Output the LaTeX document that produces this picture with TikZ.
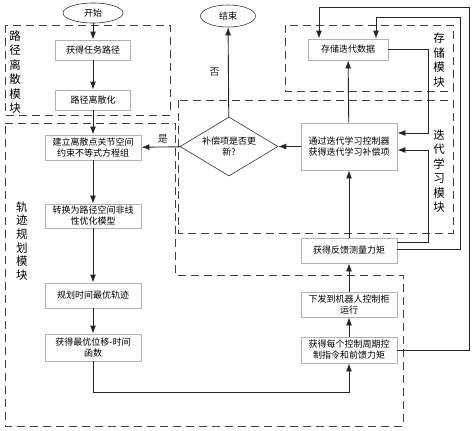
\documentclass[tikz,border=0pt]{standalone}
\usepackage{fontspec}
\newfontfamily\cjk{Noto Sans CJK SC}
\usetikzlibrary{arrows.meta,shapes.geometric}

\begin{document}
\begin{tikzpicture}[x=1pt, y=-1pt,
  box/.style={draw=gray!60, line width=0.9pt, fill=white, align=center, inner sep=1pt,
    font=\cjk\fontsize{9}{11}\selectfont},
  term/.style={ellipse, draw=black!80, line width=0.6pt, inner sep=0pt,
    font=\cjk\fontsize{9}{11}\selectfont},
  link/.style={-{Latex[length=8pt,width=6pt]}, line width=0.9pt, black!85},
  module/.style={dash pattern=on 8pt off 5pt, line width=1pt, black!75},
  tag/.style={align=center, font=\cjk\fontsize{11.5}{14.5}\selectfont}]
  \useasboundingbox (0,0) rectangle (474,431);

  \draw[module] (5,25) rectangle (170,115);
  \draw[module] (285,25) rectangle (453,91);
  \draw[module] (178,100) rectangle (453,233);
  \draw[module] (5,123) -- (175,123) -- (175,275) -- (403,275) -- (403,426) -- (5,426) -- cycle;
  \node[tag] (pathtag) at (15,72) {路\\径\\离\\散\\模\\块};
  \node[tag] (storetag) at (439,60) {存\\储\\模\\块};
  \node[tag] (learntag) at (439,171) {迭\\代\\学\\习\\模\\块};
  \node[tag, font=\cjk\fontsize{11.5}{13.6}\selectfont] (tracktag) at (22,241) {轨\\迹\\规\\划\\模\\块};

  \node[term, minimum width=60pt, minimum height=20pt] (start) at (93,13) {开始};
  \node[term, minimum width=55pt, minimum height=22pt] (finish) at (228,16) {结束};

  \node[box, minimum width=75pt, minimum height=20pt] (task) at (93,50) {获得任务路径};
  \node[box, minimum width=75pt, minimum height=20pt] (discrete) at (93,100) {路径离散化};
  \node[box, minimum width=96pt, minimum height=25pt] (build) at (93,147.5) {建立离散点关节空间\\约束不等式方程组};
  \node[box, minimum width=96pt, minimum height=24pt] (convert) at (93,216) {转换为路径空间非线\\性优化模型};
  \node[box, minimum width=96pt, minimum height=25pt] (plan) at (93,295.5) {规划时间最优轨迹};
  \node[box, minimum width=96pt, minimum height=27pt] (optimal) at (93,347.5) {获得最优位移-时间\\函数};

  \node[diamond, draw=black!80, line width=0.6pt, aspect=1.66, inner sep=1pt,
    minimum width=98pt, minimum height=59pt, align=center,
    font=\cjk\fontsize{9}{11}\selectfont] (judge) at (229,146.5) {补偿项是否更\\新?};

  \node[box, minimum width=80pt, minimum height=21pt] (store) at (348,49.5) {存储迭代数据};
  \node[box, minimum width=96pt, minimum height=47pt] (learn) at (349,146.5) {通过迭代学习控制器\\获得迭代学习补偿项};
  \node[box, minimum width=96pt, minimum height=25pt] (feedback) at (349,250.5) {获得反馈测量力矩};
  \node[box, minimum width=96pt, minimum height=25pt] (send) at (349,304.5) {下发到机器人控制柜\\运行};
  \node[box, minimum width=96pt, minimum height=26pt] (cmd) at (349,350) {获得每个控制周期控\\制指令和前馈力矩};

  \coordinate (turn) at (349,392);

  \draw[link] (start) -- (task);
  \draw[link] (task) -- (discrete);
  \draw[link] (discrete) -- (build);
  \draw[link] (build) -- (convert);
  \draw[link] (convert) -- (plan);
  \draw[link] (plan) -- (optimal);
  \draw[link] (optimal.south) |- (turn) -- (cmd.south);
  \draw[link] (cmd) -- (send);
  \draw[link] (send) -- (feedback);
  \draw[link] (feedback) -- (learn);
  \draw[link] (learn) -- (store);
  \draw[link] (learn) -- (judge);
  \draw[link] (judge) -- node[pos=0.45, above, font=\cjk\fontsize{10}{12}\selectfont] {是} (build);
  \draw[link] (judge) -- node[pos=0.5, left=5pt, font=\cjk\fontsize{10}{12}\selectfont] {否} (finish);

  \draw[link] (store.east) -| (428,133) -- ([yshift=13.5pt]learn.east);
  \draw[link] ([yshift=8.5pt]feedback.east) -| (428,150) -- ([yshift=-3.5pt]learn.east);
  \draw[link] ([yshift=1.5pt]feedback.east) -| (460,17) -| ([xshift=28pt]store.north);
  \draw[link] (cmd.east) -| (469,7) -| ([xshift=-29pt]store.north);
\end{tikzpicture}
\end{document}
